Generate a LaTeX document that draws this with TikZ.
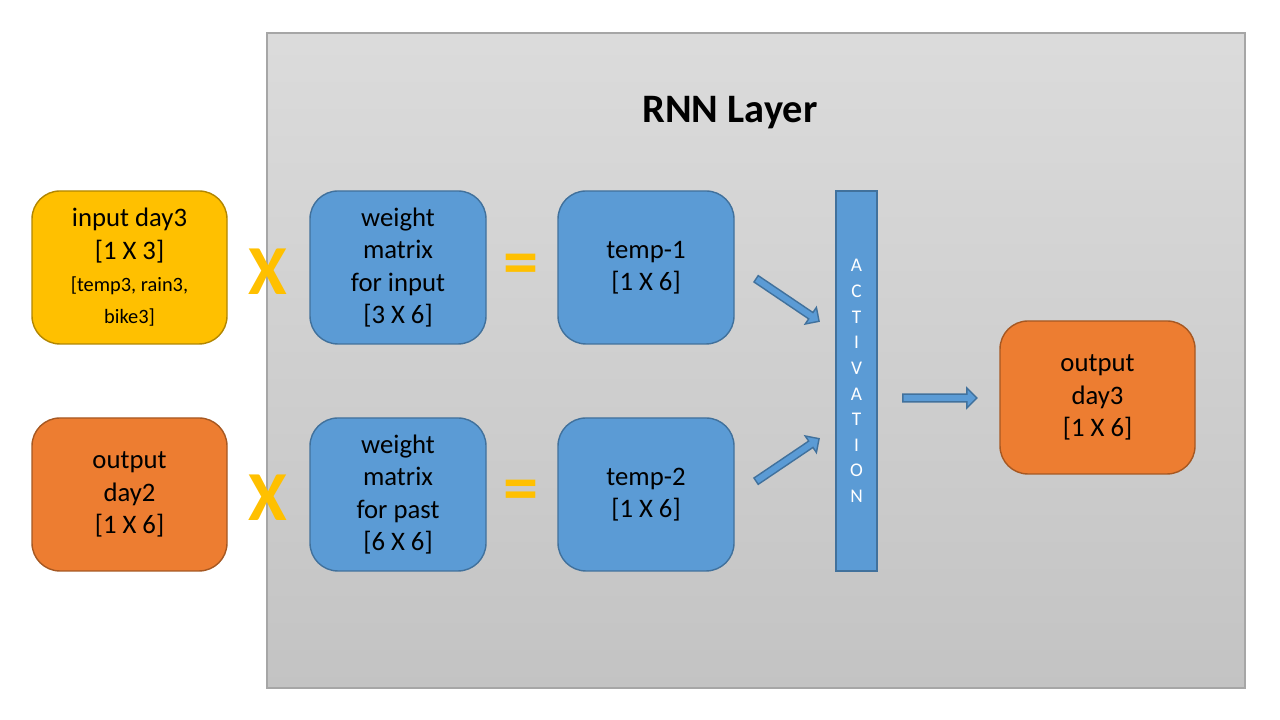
\documentclass[tikz,border=0pt]{standalone}
\usepackage{fontspec}
\setmainfont{Carlito}
\usetikzlibrary{shapes.arrows}
\definecolor{cyel}{HTML}{FFC000}
\definecolor{cora}{HTML}{ED7D31}
\definecolor{cblu}{HTML}{5B9BD5}
\definecolor{cedge}{HTML}{41719C}
\tikzset{
  box/.style={draw=#1!70!black, fill=#1, rounded corners=0.28cm, minimum width=1.95cm,
    minimum height=1.53cm, align=center, font=\fontsize{7.6}{9.2}\selectfont, inner sep=1pt},
  wbox/.style={draw=cedge, fill=cblu, rounded corners=0.28cm, minimum width=1.76cm,
    minimum height=1.53cm, align=center, font=\fontsize{7.6}{9.2}\selectfont, inner sep=1pt},
  barrow/.style={single arrow, draw=cedge, fill=cblu, minimum height=#1,
    single arrow head extend=0.06cm, single arrow head indent=0cm, minimum width=0.2cm, inner sep=0.03cm},
  op/.style={text=cyel, font=\bfseries\fontsize{20}{20}\selectfont}
}
\begin{document}
\begin{tikzpicture}[x=1cm,y=1cm]
\useasboundingbox (0,0) rectangle (12.8,7.2);
\fill[white] (0,0) rectangle (12.8,7.2);
\shade[top color=gray!28, bottom color=gray!47, draw=gray!70] (2.67,0.32) rectangle (12.45,6.87);
\node[font=\bfseries\fontsize{11.5}{12}\selectfont] (title) at (7.30,6.07) {RNN Layer};
\node[box=cyel] (in) at (1.295,4.525) {input day3\\{}[1 X 3]\\{\fontsize{5.8}{7.5}\selectfont [temp3, rain3,}\\{\fontsize{5.8}{7.5}\selectfont bike3]}};
\node[box=cora] (od2) at (1.295,2.255) {output\\day2\\{}[1 X 6]};
\node[op] (x1) at (2.68,4.48) {X};
\node[op] (x2) at (2.68,2.22) {X};
\node[wbox] (w1) at (3.98,4.525) {weight\\matrix\\for input\\{}[3 X 6]};
\node[wbox] (w2) at (3.98,2.255) {weight\\matrix\\for past\\{}[6 X 6]};
\node[op] (e1) at (5.21,4.50) {=};
\node[op] (e2) at (5.21,2.24) {=};
\node[wbox] (t1) at (6.46,4.525) {temp-1\\{}[1 X 6]};
\node[wbox] (t2) at (6.46,2.255) {temp-2\\{}[1 X 6]};
\node[draw=cedge, fill=cblu, minimum width=0.41cm, minimum height=3.80cm, inner sep=0pt,
  text=white, align=center, font=\fontsize{5.5}{7.3}\selectfont] (act) at (8.565,3.39)
  {A\\C\\T\\I\\V\\A\\T\\I\\O\\N};
\node[box=cora] (od3) at (10.975,3.225) {output\\day3\\{}[1 X 6]};
\node[barrow=0.76cm, rotate=-34] (a1) at (7.86,4.21) {};
\node[barrow=0.76cm, rotate=34] (a2) at (7.86,2.59) {};
\node[barrow=0.74cm] (a3) at (9.38,3.22) {};
\end{tikzpicture}
\end{document}
